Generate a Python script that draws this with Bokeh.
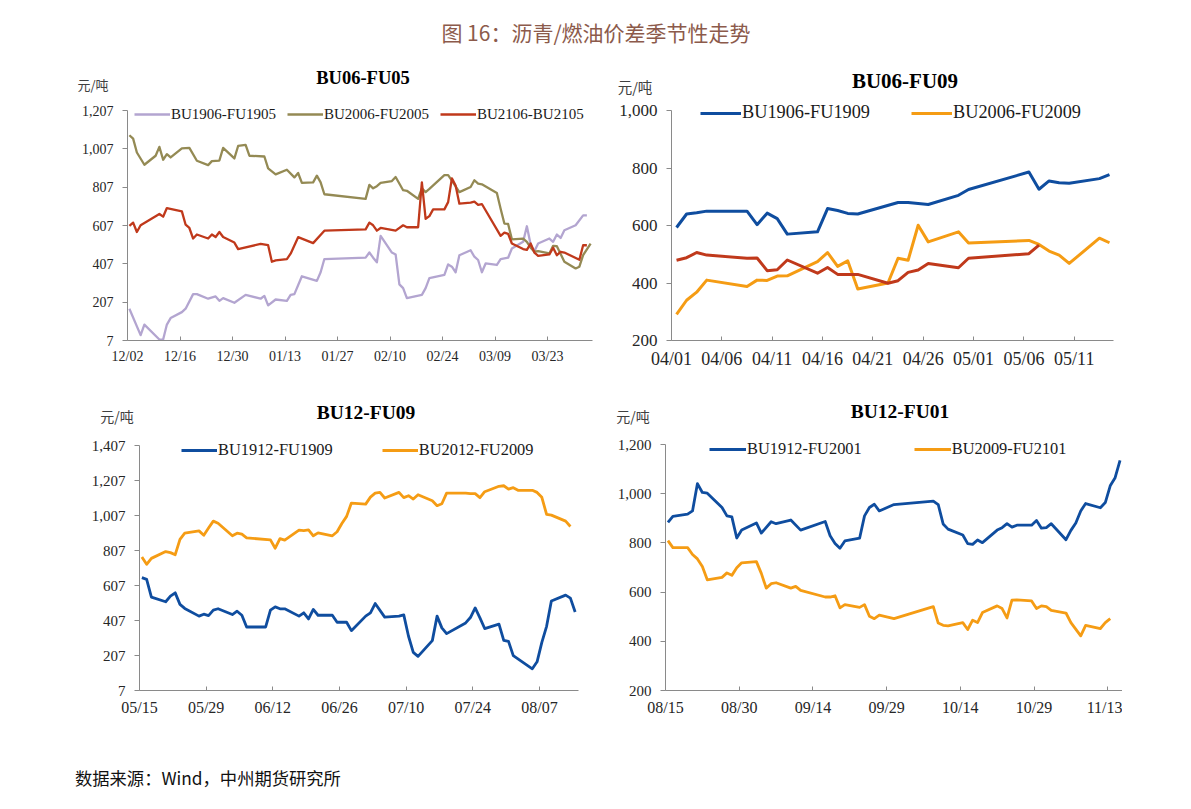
from bokeh.plotting import figure
from bokeh.models import (Legend, LegendItem, FixedTicker, Range1d, Div, NumeralTickFormatter)
from bokeh.layouts import column, row
from bokeh.embed import file_html
from bokeh.resources import INLINE

# ---------------- data (x = trading-day offset from the first axis date) ----------------
# BU06-FU05
p1_ticks = ["12/02", "12/16", "12/30", "01/13", "01/27", "02/10", "02/24", "03/09", "03/23"]
bu1906_fu1905_day = [0, 3, 4, 8, 9, 10, 11, 14, 15, 17, 18, 21, 23, 24, 25, 28, 31, 35, 36, 37, 39, 42, 43,
                     44, 46, 50, 51, 52, 63, 64, 65, 66, 67, 70, 71, 72, 73, 74, 78, 79, 80, 84, 85, 86,
                     87, 88, 91, 92, 93, 94, 95, 98, 99, 101, 102, 105, 106, 107, 108, 109, 112, 113, 114,
                     115, 116, 119, 121, 122]
bu1906_fu1905 = [173, 35, 90, 12, 12, 90, 124, 155, 173, 249, 249, 225, 237, 214, 228, 204, 245, 225, 240,
                 190, 221, 214, 245, 249, 342, 318, 363, 432, 439, 466, 439, 415, 553, 466, 456, 300, 280,
                 228, 245, 280, 332, 349, 404, 392, 363, 452, 478, 444, 427, 363, 409, 401, 432, 439, 487,
                 522, 603, 508, 473, 513, 539, 522, 560, 542, 582, 608, 660, 660]
bu2006_fu2005_day = [0, 1, 2, 4, 7, 8, 9, 10, 11, 14, 16, 18, 21, 22, 24, 25, 28, 29, 31, 32, 36, 37, 39,
                     42, 44, 45, 46, 49, 50, 51, 52, 63, 64, 65, 66, 67, 70, 71, 73, 74, 77, 78, 79, 80,
                     84, 85, 86, 88, 91, 92, 93, 94, 98, 99, 100, 101, 102, 105, 106, 107, 108, 109, 112,
                     113, 114, 116, 119, 120, 121, 123]
bu2006_fu2005 = [1078, 1060, 988, 924, 971, 1017, 950, 979, 962, 1009, 1012, 945, 922, 943, 946, 1012,
                 957, 1022, 1028, 971, 967, 905, 874, 898, 858, 881, 829, 832, 867, 832, 770, 746, 819,
                 801, 812, 829, 839, 860, 791, 788, 746, 801, 781, 798, 870, 870, 841, 781, 808, 843,
                 825, 822, 777, 694, 617, 615, 535, 539, 522, 491, 470, 473, 461, 501, 499, 418, 383,
                 392, 452, 513]
bu2106_bu2105_day = [0, 1, 2, 3, 8, 9, 10, 14, 15, 16, 17, 18, 21, 22, 23, 24, 25, 28, 29, 35, 37, 38, 39,
                     42, 43, 45, 49, 52, 63, 64, 65, 66, 67, 71, 73, 74, 77, 78, 79, 80, 81, 84, 85, 86,
                     87, 88, 91, 92, 93, 94, 99, 100, 101, 102, 105, 106, 107, 108, 109, 112, 113, 114,
                     115, 116, 120, 121, 122]
bu2106_bu2105 = [605, 622, 573, 608, 667, 653, 698, 681, 611, 594, 539, 560, 539, 560, 547, 573, 547,
                 518, 484, 511, 504, 418, 425, 432, 460, 546, 515, 580, 587, 622, 608, 580, 594, 580,
                 608, 598, 598, 832, 642, 656, 691, 691, 729, 853, 815, 721, 726, 732, 715, 719, 553,
                 570, 563, 513, 484, 480, 513, 466, 449, 456, 491, 452, 470, 466, 428, 504, 504]

# BU06-FU09
p2_ticks = ["04/01", "04/06", "04/11", "04/16", "04/21", "04/26", "05/01", "05/06", "05/11"]
bu1906_fu1909_day = [0, 1, 2, 3, 7, 8, 9, 10, 11, 14, 15, 16, 17, 18, 22, 23, 25, 28, 29, 35, 36, 37, 38,
                     39, 42, 43]
bu1906_fu1909 = [593, 640, 644, 650, 650, 603, 643, 624, 570, 578, 659, 652, 642, 640, 680, 680, 673,
                 705, 725, 786, 726, 755, 749, 747, 763, 777]
bu2006_fu2009_day = [0, 1, 2, 3, 7, 8, 9, 10, 11, 14, 15, 16, 17, 18, 21, 22, 23, 24, 25, 28, 29, 35, 36,
                     37, 38, 39, 42, 43]
bu2006_fu2009 = [291, 340, 368, 410, 388, 410, 409, 424, 425, 474, 506, 458, 477, 379, 400, 486, 479,
                 601, 543, 578, 539, 548, 534, 511, 497, 468, 556, 540]
bu2106_fu2109_day = [0, 1, 2, 3, 7, 8, 9, 10, 11, 14, 15, 16, 18, 21, 22, 23, 24, 25, 28, 29, 35, 36]
bu2106_fu2109 = [479, 488, 506, 497, 486, 487, 443, 446, 480, 434, 454, 430, 430, 399, 408, 437, 445,
                 468, 453, 486, 502, 532]

# BU12-FU09
p3_ticks = ["05/15", "05/29", "06/12", "06/26", "07/10", "07/24", "08/07"]
bu1912_fu1909_day = [0, 1, 2, 5, 6, 7, 8, 9, 12, 13, 14, 15, 16, 19, 20, 21, 22, 26, 27, 28, 29, 30, 33,
                     34, 35, 36, 37, 40, 41, 43, 44, 47, 48, 49, 51, 54, 55, 56, 57, 58, 61, 62, 63, 64,
                     68, 69, 70, 71, 72, 75, 76, 77, 78, 82, 83, 84, 85, 86, 89, 90, 91]
bu1912_fu1909 = [652, 642, 541, 514, 546, 565, 499, 476, 432, 443, 435, 466, 474, 441, 460, 437, 370,
                 370, 466, 485, 474, 474, 432, 451, 416, 470, 437, 437, 397, 397, 349, 432, 451, 504,
                 426, 432, 439, 317, 225, 202, 292, 432, 365, 332, 393, 424, 479, 422, 361, 386, 294,
                 288, 206, 131, 171, 282, 374, 518, 552, 535, 456]
bu2012_fu2009_day = [0, 1, 2, 5, 6, 7, 8, 9, 12, 13, 14, 15, 16, 19, 20, 21, 22, 27, 28, 29, 30, 33, 34,
                     35, 36, 37, 40, 41, 42, 43, 44, 47, 48, 49, 50, 51, 54, 55, 56, 57, 58, 61, 62, 63,
                     64, 68, 69, 70, 71, 72, 75, 76, 77, 78, 79, 82, 83, 84, 85, 86, 89, 90]
bu2012_fu2009 = [770, 728, 762, 801, 795, 783, 871, 906, 919, 894, 935, 975, 963, 891, 906, 900, 879,
                 868, 820, 875, 866, 923, 921, 925, 891, 908, 891, 914, 961, 1002, 1078, 1072, 1112,
                 1135, 1139, 1107, 1139, 1109, 1120, 1101, 1126, 1091, 1063, 1074, 1135, 1135, 1132,
                 1132, 1109, 1143, 1174, 1177, 1158, 1166, 1151, 1151, 1139, 1111, 1013, 1009, 975, 944]

# BU12-FU01
p4_ticks = ["08/15", "08/30", "09/14", "09/29", "10/14", "10/29", "11/13"]
bu1912_fu2001_day = [0, 1, 4, 5, 6, 7, 8, 11, 12, 13, 14, 15, 18, 19, 21, 22, 25, 27, 32, 33, 34, 35, 36,
                     39, 40, 41, 42, 43, 46, 54, 55, 56, 57, 60, 61, 62, 63, 64, 67, 68, 69, 70, 71, 74,
                     75, 76, 77, 78, 81, 82, 83, 84, 85, 88, 89, 90, 91, 92]
bu1912_fu2001 = [883, 908, 917, 930, 1041, 1005, 1002, 944, 910, 906, 820, 852, 881, 840, 886, 878, 893,
                 852, 887, 829, 798, 778, 808, 819, 910, 944, 957, 930, 956, 970, 956, 877, 856, 832,
                 797, 794, 812, 801, 852, 862, 878, 864, 872, 872, 891, 860, 862, 878, 813, 851, 881,
                 930, 960, 943, 964, 1032, 1065, 1135]
bu2009_fu2101_day = [0, 1, 4, 5, 6, 7, 8, 11, 12, 13, 14, 15, 18, 19, 20, 21, 22, 25, 26, 27, 32, 33, 34,
                     35, 36, 39, 40, 41, 42, 43, 46, 54, 55, 56, 57, 60, 61, 62, 63, 64, 67, 68, 69, 70,
                     71, 74, 75, 76, 77, 78, 81, 82, 84, 85, 88, 89, 90]
bu2009_fu2101 = [809, 781, 781, 753, 735, 704, 650, 660, 678, 668, 699, 719, 724, 676, 616, 634, 638,
                 616, 623, 607, 580, 580, 585, 536, 549, 538, 549, 502, 492, 506, 492, 541, 474, 465,
                 463, 476, 448, 486, 476, 517, 544, 533, 495, 567, 568, 564, 533, 544, 541, 526, 515,
                 476, 422, 465, 452, 476, 492]

# ---------------- styling ----------------
LAVENDER = "#B3A5D0"
OLIVE = "#948A54"
RED = "#C0391B"
BLUE = "#0F4D9F"
ORANGE = "#F59C14"
AXIS = "#8A8A8A"
TICK_TEXT = "#262626"
SERIF = "Liberation Serif"
CJK = "Noto Sans CJK SC"
DAY_CENTER = 0.5  # points sit in the middle of their day slot


class Panel:
    """Plot body of one chart cell. Geometry is given in page pixels: (ox, top) is the
    body's top-left corner, frame_left/right and axis_top/bottom locate the value axes
    (the frame starts a little above the top tick so the legend fits inside it)."""

    def __init__(self, ox, top, width, bottom, frame_left, frame_right, axis_top, axis_bottom,
                 xmax, ymin, ymax, ystep, xstep, xlabels, ytick_size, xtick_size):
        self.top = top
        self.frame_left = frame_left
        self.frame_h = axis_bottom - top
        plot_h = axis_bottom - axis_top
        yend = ymax + (axis_top - top) * (ymax - ymin) / plot_h

        p = figure(width=width, height=bottom - top, output_backend="svg", toolbar_location=None,
                   min_border_left=frame_left - ox, min_border_right=width - (frame_right - ox),
                   min_border_top=0, min_border_bottom=bottom - axis_bottom,
                   x_range=Range1d(0, xmax), y_range=Range1d(ymin, yend))
        p.outline_line_color = None
        p.xgrid.visible = False
        p.ygrid.visible = False
        xt = [i * xstep for i in range(len(xlabels))]
        p.xaxis.ticker = FixedTicker(ticks=xt)
        p.xaxis.major_label_overrides = {t: lab for t, lab in zip(xt, xlabels)}
        p.yaxis.ticker = FixedTicker(ticks=list(range(ymin, ymax + 1, ystep)))
        p.yaxis.formatter = NumeralTickFormatter(format="0,0")
        p.yaxis.bounds = (ymin, ymax)
        for ax in (p.xaxis, p.yaxis):
            ax.axis_line_color = AXIS
            ax.major_tick_line_color = AXIS
            ax.minor_tick_line_color = None
            ax.major_label_text_font = SERIF
            ax.major_label_text_color = TICK_TEXT
        p.xaxis.major_tick_in = 4
        p.xaxis.major_tick_out = 0
        p.xaxis.major_label_standoff = 8
        p.xaxis.major_label_text_font_size = f"{xtick_size}px"
        p.yaxis.major_tick_in = 0
        p.yaxis.major_tick_out = 5
        p.yaxis.major_label_standoff = 9
        p.yaxis.major_label_text_font_size = f"{ytick_size}px"
        self.fig = p

    def series(self, days, vals, color, lw):
        return self.fig.line([d + DAY_CENTER for d in days], vals, line_color=color,
                             line_width=lw, line_join="round")

    def legend(self, items, page_x, page_cy, size, glyph_w, spacing):
        item_h = 18
        below = page_cy - self.top
        leg = Legend(items=[LegendItem(label=lab, renderers=[r]) for lab, r in items],
                     location=(page_x - self.frame_left, self.frame_h - below - item_h / 2),
                     orientation="horizontal", background_fill_alpha=0, border_line_color=None,
                     padding=0, margin=0, spacing=spacing, glyph_width=glyph_w,
                     glyph_height=item_h, label_height=item_h, label_standoff=1,
                     label_text_font=SERIF, label_text_font_size=f"{size}px",
                     label_text_color="#1a1a1a")
        self.fig.add_layout(leg)


def span(x, y, txt, family, size, color="#000000", bold=False):
    weight = "bold" if bold else "normal"
    return (f'<span style="position:absolute;left:{x}px;top:{y}px;transform:translate(-50%,-50%);'
            f'white-space:nowrap;font-family:\'{family}\';font-size:{size}px;font-weight:{weight};'
            f'color:{color};line-height:1;">{txt}</span>')


def strip(height, spans):
    html = (f'<div style="position:relative;width:1191px;height:{height}px;">'
            + "".join(spans) + "</div>")
    return Div(text=html, width=1191, height=height, margin=0)


# ---- BU06-FU05 ----
c1 = Panel(0, 100, 600, 395, 127, 592, 110, 340, 124, 7, 1207, 200, 14, p1_ticks, 14, 14)
r11 = c1.series(bu1906_fu1905_day, bu1906_fu1905, LAVENDER, 2.3)
r12 = c1.series(bu2006_fu2005_day, bu2006_fu2005, OLIVE, 2.3)
r13 = c1.series(bu2106_bu2105_day, bu2106_bu2105, RED, 2.3)
c1.legend([("BU1906-FU1905", r11), ("BU2006-FU2005", r12), ("BU2106-BU2105", r13)],
          134, 114, 15, 36, 11)

# ---- BU06-FU09 ----
c2 = Panel(600, 100, 591, 395, 671, 1113, 110, 340, 43.9, 200, 1000, 200, 5, p2_ticks, 17, 18)
r21 = c2.series(bu1906_fu1909_day, bu1906_fu1909, BLUE, 3)
r22 = c2.series(bu2006_fu2009_day, bu2006_fu2009, ORANGE, 3)
c2.series(bu2106_fu2109_day, bu2106_fu2109, RED, 3)
c2.legend([("BU1906-FU1909", r21), ("BU2006-FU2009", r22)], 700, 114, 18.3, 41, 41)

# ---- BU12-FU09 ----
c3 = Panel(0, 435, 600, 740, 139, 578, 445, 690, 92.2, 7, 1407, 200, 14, p3_ticks, 15, 16)
r31 = c3.series(bu1912_fu1909_day, bu1912_fu1909, BLUE, 2.8)
r32 = c3.series(bu2012_fu2009_day, bu2012_fu2009, ORANGE, 2.8)
c3.legend([("BU1912-FU1909", r31), ("BU2012-FU2009", r32)], 181, 451, 16.4, 36, 49)

# ---- BU12-FU01 ----
c4 = Panel(600, 435, 522, 740, 665, 1122, 444, 690, 93, 200, 1200, 200, 15, p4_ticks, 15, 16)
r41 = c4.series(bu1912_fu2001_day, bu1912_fu2001, BLUE, 2.8)
r42 = c4.series(bu2009_fu2101_day, bu2009_fu2101, ORANGE, 2.8)
c4.legend([("BU1912-FU2001", r41), ("BU2009-FU2101", r42)], 709, 450, 16.4, 37, 52)

# ---- text strips: page title, panel titles and units ----
top_strip = strip(100, [
    span(596, 32, "图 16：沥青/燃油价差季节性走势", CJK, 21, color="#8C5A4B"),
    span(363, 78, "BU06-FU05", SERIF, 18.5, bold=True),
    span(93, 84, "元/吨", CJK, 13, color="#404040"),
    span(905, 81, "BU06-FU09", SERIF, 21, bold=True),
    span(635, 87, "元/吨", CJK, 14.5, color="#404040"),
])
mid_strip = strip(40, [
    span(366, 18, "BU12-FU09", SERIF, 19.5, bold=True),
    span(117, 21, "元/吨", CJK, 14, color="#404040"),
    span(900, 17, "BU12-FU01", SERIF, 19.5, bold=True),
    span(633, 21, "元/吨", CJK, 14, color="#404040"),
])
footer = strip(69, [
    '<span style="position:absolute;left:75px;top:38px;transform:translateY(-50%);'
    'white-space:nowrap;font-family:\'Noto Sans CJK SC\';font-size:17.3px;color:#111111;'
    'line-height:1;">数据来源：Wind，中州期货研究所</span>',
])

page = column(top_strip,
              row(c1.fig, c2.fig, spacing=0),
              mid_strip,
              row(c3.fig, c4.fig, spacing=0),
              footer, spacing=0)

with open("out.html", "w") as f:
    f.write(file_html(page, INLINE))
